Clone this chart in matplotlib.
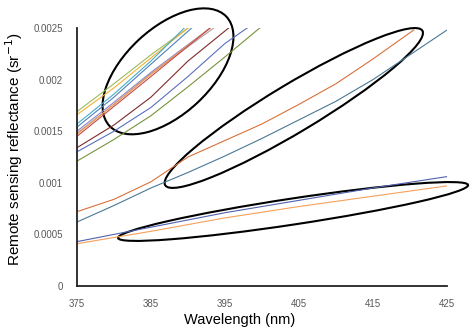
import matplotlib.pyplot as plt
from matplotlib.patches import Ellipse
from matplotlib.transforms import ScaledTranslation

# ---------------------------------------------------------------------------
# data (wavelength in nm, Rrs in sr^-1)
# ---------------------------------------------------------------------------
# upper cluster (circled top left)
wl_a = [375, 380, 385, 390]
rrs_green = [0.00169, 0.00196, 0.00224, 0.0025]
rrs_gold = [0.00166, 0.00192, 0.00221, 0.0025]
wl_b = [375, 380, 385, 389.5]
rrs_lightblue = [0.00157, 0.00186, 0.00218, 0.0025]
wl_c = [375, 380, 385, 390.5]
rrs_steel = [0.00154, 0.00183, 0.00215, 0.0025]
wl_d = [375, 380, 385, 393]
rrs_purple = [0.00150, 0.00178, 0.00207, 0.0025]
rrs_orange_top = [0.00147, 0.00176, 0.00205, 0.0025]
rrs_red = [0.00145, 0.00174, 0.00203, 0.0025]
wl_e = [375, 380, 385, 393.5]
rrs_grey = [0.00148, 0.00176, 0.00206, 0.0025]
wl_f = [375, 380, 385, 390, 395.5]
rrs_darkred = [0.00134, 0.00156, 0.00183, 0.00218, 0.0025]
wl_g = [375, 380, 385, 390, 395, 398]
rrs_blue_top = [0.00130, 0.00150, 0.00173, 0.00203, 0.00235, 0.0025]
wl_h = [375, 380, 385, 390, 395, 399.7]
rrs_olive = [0.00121, 0.00142, 0.00165, 0.00193, 0.00222, 0.0025]

# middle pair
wl_mid_orange = [375, 380, 385, 390, 395, 400, 405, 410, 415, 420.5]
rrs_mid_orange = [0.00072, 0.00084, 0.00101, 0.00125, 0.00141, 0.00157,
                  0.00176, 0.00196, 0.00220, 0.00248]
wl_mid_teal = [375, 380, 385, 390, 395, 400, 405, 410, 415, 420, 425]
rrs_mid_teal = [0.00062, 0.00078, 0.00095, 0.00110, 0.00126, 0.00143,
                0.00161, 0.00179, 0.00200, 0.00224, 0.00248]

# lower pair
wl_low = [375, 385, 395, 405, 415, 425]
rrs_low_blue = [0.00043, 0.00057, 0.00071, 0.00083, 0.00095, 0.00106]
rrs_low_orange = [0.00041, 0.00053, 0.00066, 0.00077, 0.00087, 0.00097]

x_ticks = [375, 385, 395, 405, 415, 425]
y_ticks = [0, 0.0005, 0.001, 0.0015, 0.002, 0.0025]
y_tick_labels = ["0", "0.0005", "0.001", "0.0015", "0.002", "0.0025"]

# ---------------------------------------------------------------------------
# plot
# ---------------------------------------------------------------------------
plt.rcParams['font.family'] = ['Liberation Sans', 'DejaVu Sans']
fig = plt.figure(figsize=(4.74, 3.34), dpi=100)
ax = fig.add_axes([0.1624, 0.1437, 0.7806, 0.7725])

lw = 0.8
ax.plot(wl_a, rrs_green, color="#9bbb59", lw=lw)
ax.plot(wl_a, rrs_gold, color="#f2b134", lw=lw)
ax.plot(wl_b, rrs_lightblue, color="#4bacc6", lw=lw)
ax.plot(wl_c, rrs_steel, color="#4f81bd", lw=lw)
ax.plot(wl_d, rrs_purple, color="#8c84c8", lw=lw)
ax.plot(wl_e, rrs_grey, color="#b0a0a0", lw=lw)
ax.plot(wl_d, rrs_orange_top, color="#f79646", lw=lw)
ax.plot(wl_d, rrs_red, color="#c0504d", lw=lw)
ax.plot(wl_f, rrs_darkred, color="#7f2a2a", lw=lw)
ax.plot(wl_g, rrs_blue_top, color="#5a6fc0", lw=lw)
ax.plot(wl_h, rrs_olive, color="#77933c", lw=lw)

ax.plot(wl_mid_orange, rrs_mid_orange, color="#d9713a", lw=lw)
ax.plot(wl_mid_teal, rrs_mid_teal, color="#4a7896", lw=lw)

ax.plot(wl_low, rrs_low_blue, color="#4f62b0", lw=lw)
ax.plot(wl_low, rrs_low_orange, color="#f5a05a", lw=lw)

ax.set_xlim(375, 425)
ax.set_ylim(0, 0.0025)
ax.set_xticks(x_ticks)
ax.set_yticks(y_ticks)
ax.set_yticklabels(y_tick_labels)
ax.tick_params(length=0, labelsize=7, colors="#595959")
ax.tick_params(axis="x", pad=9)
ax.tick_params(axis="y", pad=10)
for side in ["top", "right"]:
    ax.spines[side].set_visible(False)
for side in ["left", "bottom"]:
    ax.spines[side].set_linewidth(1.3)
    ax.spines[side].set_color("#222222")

ax.set_xlabel("Wavelength (nm)", fontsize=10.5)
ax.xaxis.set_label_coords(0.44, -0.105)
ax.set_ylabel("Remote sensing reflectance (sr$^{-1}$)", fontsize=11)
ax.yaxis.set_label_coords(-0.14, 0.53)

# hand drawn circles (center in data, size in inches)
circles = [
    (387.3, 0.00208, 1.60, 0.86, 43),
    (404.3, 0.001725, 3.00, 0.48, 31),
    (404.2, 0.000722, 3.54, 0.26, 8.6),
]
for cx, cy, w, h, ang in circles:
    tr = fig.dpi_scale_trans + ScaledTranslation(cx, cy, ax.transData)
    ax.add_patch(Ellipse((0, 0), w, h, angle=ang, transform=tr,
                         fill=False, ec="black", lw=1.5, clip_on=False))

fig.savefig("out.png", dpi=100)
